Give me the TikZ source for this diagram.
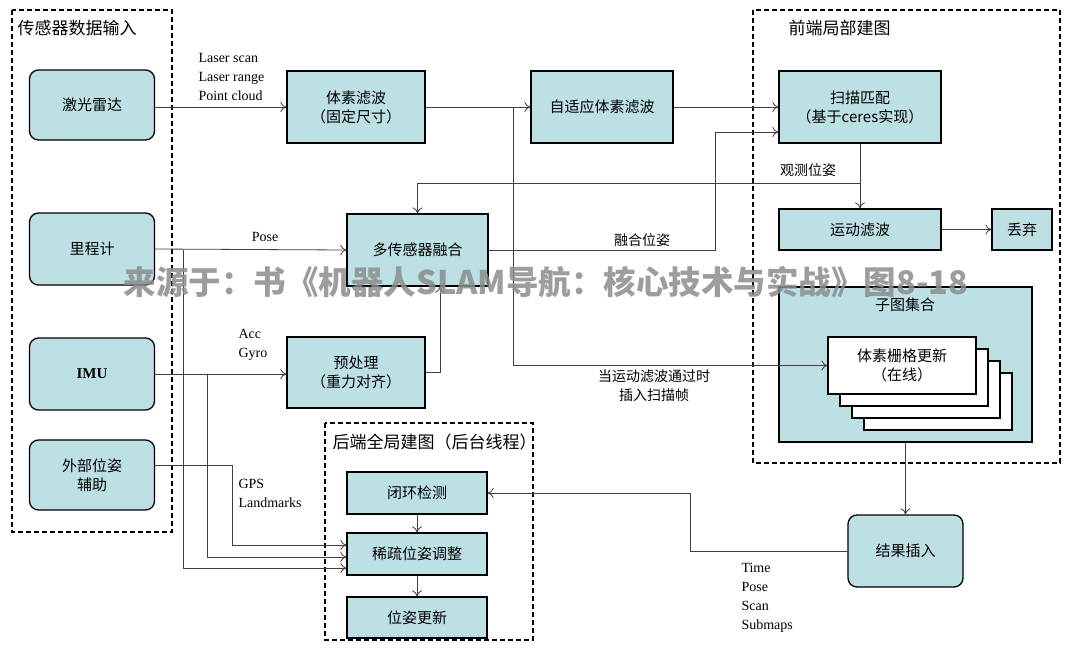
\documentclass[tikz,border=0pt]{standalone}
\usepackage{fontspec}
\setmainfont{Liberation Serif}
\newfontfamily\cjk{Noto Sans CJK SC}
\usetikzlibrary{arrows.meta}
\definecolor{boxc}{HTML}{BDE0E4}
\begin{document}
\begin{tikzpicture}[x=1pt,y=-1pt,
  box/.style={draw=black,line width=1.3pt,fill=boxc,align=center,font=\cjk\fontsize{15}{19}\selectfont,inner sep=0pt},
  rbox/.style={box,rounded corners=9pt},
  grp/.style={draw=black,line width=1.1pt,dash pattern=on 5pt off 3pt},
  ttl/.style={font=\cjk\fontsize{17}{20}\selectfont,anchor=west},
  lbl/.style={font=\fontsize{14}{19}\selectfont,align=left},
  clbl/.style={font=\cjk\fontsize{14}{19}\selectfont,align=center},
  ar/.style={draw=black!75,line width=0.8pt,-{To[length=6pt,width=10pt]}},
  ln/.style={draw=black!75,line width=0.8pt}]
\useasboundingbox[fill=white] (0,0) rectangle (1072,654);
% groups
\draw[grp] (12,10) rectangle (172,532);
\node[ttl] (t1) at (14,28) {传感器数据输入};
\draw[grp] (753,10) rectangle (1060,463);
\node[ttl] (t2) at (785,28) {前端局部建图};
\draw[grp] (325,423) rectangle (533,640);
\node[ttl] (t3) at (329,442) {后端全局建图（后台线程）};
% left inputs
\node[rbox,minimum width=125pt,minimum height=70pt] (lidar) at (92,105) {激光雷达};
\node[rbox,minimum width=125pt,minimum height=72pt] (odom) at (92,249) {里程计};
\node[rbox,minimum width=125pt,minimum height=72pt,font=\bfseries\fontsize{15}{19}\selectfont] (imu) at (92,374) {IMU};
\node[rbox,minimum width=125pt,minimum height=70pt] (ext) at (92,475) {外部位姿\\辅助};
% middle
\node[box,minimum width=138pt,minimum height=72pt] (vf) at (356,107) {体素滤波\\（固定尺寸）};
\node[box,minimum width=142pt,minimum height=72pt] (avf) at (602,107) {自适应体素滤波};
\node[box,minimum width=162pt,minimum height=72pt] (sm) at (860,107) {扫描匹配\\（基于ceres实现）};
\node[box,minimum width=162pt,minimum height=41pt] (mf) at (860,229.5) {运动滤波};
\node[box,minimum width=60pt,minimum height=41pt] (drop) at (1022,229.5) {丢弃};
\node[box,minimum width=141pt,minimum height=72pt] (fuse) at (417.5,250) {多传感器融合};
\node[box,minimum width=138pt,minimum height=71pt] (pre) at (356,372.5) {预处理\\（重力对齐）};
% submap
\node[box,minimum width=253pt,minimum height=155pt] (sub) at (905.5,364.5) {};
\node[clbl,font=\cjk\fontsize{15}{19}\selectfont] (subt) at (905,305) {子图集合};
\foreach \i in {3,2,1}{
  \draw[fill=white,line width=1.1pt] (828+12*\i,337+12*\i) rectangle (976+12*\i,394+12*\i);
}
\node[draw,line width=1.1pt,fill=white,minimum width=148pt,minimum height=57pt,align=center,inner sep=0pt,font=\cjk\fontsize{15}{19}\selectfont] (grid) at (902,365.5) {体素栅格更新\\（在线）};
% back end
\node[box,minimum width=140pt,minimum height=42pt] (loop) at (417,493) {闭环检测};
\node[box,minimum width=140pt,minimum height=42pt] (spa) at (417,554) {稀疏位姿调整};
\node[box,minimum width=140pt,minimum height=41pt] (upd) at (417,617.5) {位姿更新};
\node[rbox,minimum width=115pt,minimum height=72pt] (res) at (905.5,551) {结果插入};
% connectors
\draw[ar] (lidar.east |- 0,107) -- (vf.west);
\draw[ar] (vf.east) -- (avf.west);
\draw[ar] (avf.east) -- (sm.west);
\coordinate (j1) at (513,107);
\draw[ar] (j1) |- (grid.west);
\draw[ar] (sm.south) -- (mf.north);
\coordinate (j2) at (860,183);
\draw[ar] (j2) -| (fuse.north);
\draw[ar] (fuse.east) -- (715,250) |- (sm.west |- 0,132);
\draw[ar] (mf.east) -- (drop.west);
\draw[ar] (sub.south) -- (res.north);
\draw[ar] (res.west) -- (690,551) |- (loop.east);
\draw[ar] (loop.south) -- (spa.north);
\draw[ar] (spa.south) -- (upd.north);
\draw[ar] (odom.east) -- (fuse.west);
\draw[ar] (183,250) |- (spa.west |- 0,568);
\draw[ar] (imu.east |- 0,374) -- (pre.west |- 0,374);
\draw[ar] (207,374) |- (spa.west |- 0,557);
\draw[ar] (pre.east) -- (440,372.5) -- (fuse.south -| 440,0);
\draw[ar] (ext.east |- 0,465) -- (232,465) |- (spa.west |- 0,545);
% labels
\node[lbl,anchor=west] (l1) at (195,77) {Laser scan\\Laser range\\Point cloud};
\node[lbl] (l2) at (265,237) {Pose};
\node[lbl,anchor=west] (l3) at (235,345) {Acc\\Gyro};
\node[lbl,anchor=west] (l4) at (235,493) {GPS\\Landmarks};
\node[lbl,anchor=west] (l5) at (738,598) {Time\\Pose\\Scan\\Submaps};
\node[clbl] (c1) at (808,170) {观测位姿};
\node[clbl] (c2) at (642,240) {融合位姿};
\node[clbl] (c3) at (654,386) {当运动滤波通过时\\插入扫描帧};
% watermark
\node[font=\cjk\bfseries\fontsize{32.5}{36}\selectfont,text=black!45,opacity=0.85] (wm) at (546,282) {来源于：书《机器人SLAM导航：核心技术与实战》图8-18};
\end{tikzpicture}
\end{document}
